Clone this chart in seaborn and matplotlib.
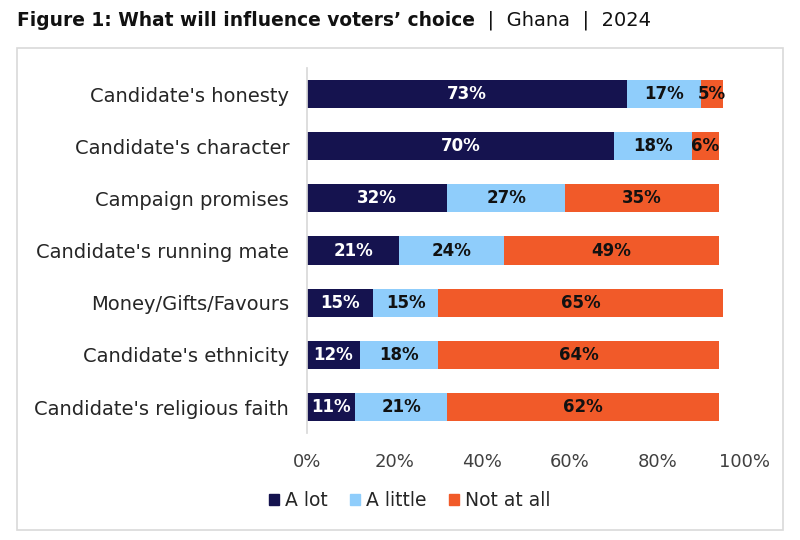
import numpy as np
import pandas as pd
import matplotlib
matplotlib.use("Agg")
import matplotlib.pyplot as plt
import seaborn as sns
from matplotlib.patches import Rectangle, Patch

categories = ["Candidate's honesty", "Candidate's character", "Campaign promises",
              "Candidate's running mate", "Money/Gifts/Favours",
              "Candidate's ethnicity", "Candidate's religious faith"]
a_lot = [73, 70, 32, 21, 15, 12, 11]
a_little = [17, 18, 27, 24, 15, 18, 21]
not_at_all = [5, 6, 35, 49, 65, 64, 62]
series = ["A lot", "A little", "Not at all"]
colors = ["#15134f", "#8fcdfb", "#f15a29"]

sns.set_theme(style="white")
plt.rcParams['font.family'] = ['DejaVu Sans']

df = pd.DataFrame({"cat": categories, "A lot": a_lot,
                   "A little": a_little, "Not at all": not_at_all})
df["c1"] = df["A lot"]
df["c2"] = df["c1"] + df["A little"]
df["c3"] = df["c2"] + df["Not at all"]

fig = plt.figure(figsize=(8, 5.4), dpi=100)
ax = fig.add_axes([0.384, 0.198, 0.547, 0.676])

for col, c in zip(["c3", "c2", "c1"], colors[::-1]):
    sns.barplot(data=df, x=col, y="cat", color=c, width=0.54, ax=ax,
                saturation=1, edgecolor="none")

for i, row in df.iterrows():
    left = 0
    for s, tc in zip(series, ["white", "#111111", "#111111"]):
        v = row[s]
        ax.text(left + v / 2, i, f"{v}%", ha="center", va="center",
                color=tc, fontsize=12, fontweight="bold")
        left += v

ax.set_xlim(0, 100)
ax.set_ylim(6.5, -0.5)
ax.set_xticks(range(0, 101, 20))
ax.set_xticklabels([f"{t}%" for t in range(0, 101, 20)])
ax.set_xlabel("")
ax.set_ylabel("")
ax.tick_params(axis="x", length=0, pad=14, labelsize=13, labelcolor="#404040")
ax.tick_params(axis="y", length=0, pad=13, labelsize=14, labelcolor="#262626")
for sp in ["top", "right", "bottom"]:
    ax.spines[sp].set_visible(False)
ax.spines["left"].set_color("#d9d9d9")

handles = [Patch(color=c, label=s) for s, c in zip(series, colors)]
fig.legend(handles=handles, loc="center", bbox_to_anchor=(0.512, 0.073), ncol=3,
           frameon=False, fontsize=13.5, handlelength=0.55, handleheight=0.55,
           handletextpad=0.3, columnspacing=1.2, labelcolor="#262626")

fig.patches.append(Rectangle((17 / 800, 10 / 540), 766 / 800, 482 / 540,
                             transform=fig.transFigure, fill=False,
                             edgecolor="#d9d9d9", linewidth=1.2))

t1 = fig.text(17 / 800, 1 - 20 / 540, "Figure 1: What will influence voters\u2019 choice",
              fontsize=13.4, fontweight="bold", va="center", ha="left", color="#111111")
fig.canvas.draw()
bb = t1.get_window_extent()
x2 = fig.transFigure.inverted().transform((bb.x1, bb.y0))[0]
fig.text(x2, 1 - 20 / 540, "  |  Ghana  |  2024", fontsize=14, va="center",
         ha="left", color="#111111")

fig.savefig("out.png", dpi=100)
